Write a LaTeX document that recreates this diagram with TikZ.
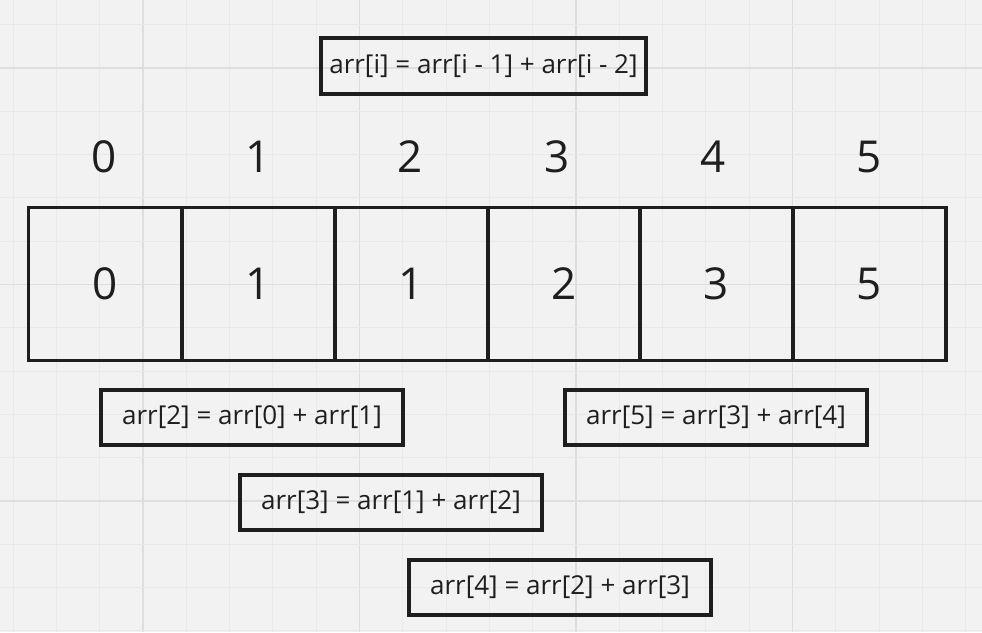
\documentclass[tikz,border=0pt]{standalone}
\usepackage{fontspec}
\setmainfont{Open Sans}
\definecolor{bgc}{HTML}{F2F2F2}
\definecolor{gridminor}{HTML}{E9E9E9}
\definecolor{gridmajor}{HTML}{DEDEDE}
\definecolor{ink}{HTML}{1E1E1E}
\begin{document}
\begin{tikzpicture}[x=1pt,y=-1pt,
  cellbox/.style={draw=ink,line width=3.5pt,minimum height=153pt,inner sep=0pt,text=ink,font=\fontsize{44}{48}\selectfont},
  idxlabel/.style={text=ink,inner sep=0pt,font=\fontsize{44}{48}\selectfont},
  formbox/.style={draw=ink,line width=4pt,minimum width=302pt,minimum height=55pt,inner sep=0pt,text=ink,font=\fontsize{26}{30}\selectfont}]
\fill[bgc] (0,0) rectangle (982,632);
\useasboundingbox (0,0) rectangle (982,632);
% grid
\foreach \i in {-3,...,19}{
  \pgfmathsetmacro\xx{143+43.3*\i}
  \pgfmathtruncatemacro\mm{mod(\i+10,5)}
  \ifnum\mm=0
    \draw[gridmajor,line width=1.3pt] (\xx,0) -- (\xx,632);
  \else
    \draw[gridminor,line width=1pt] (\xx,0) -- (\xx,632);
  \fi
}
\foreach \j in {-1,...,13}{
  \pgfmathsetmacro\yy{68+43.3*\j}
  \pgfmathtruncatemacro\mm{mod(\j+10,5)}
  \ifnum\mm=0
    \draw[gridmajor,line width=1.3pt] (0,\yy) -- (982,\yy);
  \else
    \draw[gridminor,line width=1pt] (0,\yy) -- (982,\yy);
  \fi
}
% top formula
\node[formbox,minimum width=325pt,minimum height=56pt] (general) at (483.5,66) {arr[i] = arr[i - 1] + arr[i - 2]};
% index labels
\node[idxlabel] (i0) at (104,157) {0};
\node[idxlabel] (i1) at (258,157) {1};
\node[idxlabel] (i2) at (410,157) {2};
\node[idxlabel] (i3) at (557,157) {3};
\node[idxlabel] (i4) at (713,157) {4};
\node[idxlabel] (i5) at (869,157) {5};
% array cells
\node[cellbox,minimum width=154pt] (c0) at (105.5,284) {0};
\node[cellbox,minimum width=153pt] (c1) at (258.5,284) {1};
\node[cellbox,minimum width=153pt] (c2) at (411.5,284) {1};
\node[cellbox,minimum width=152pt] (c3) at (564,284) {2};
\node[cellbox,minimum width=153pt] (c4) at (716.5,284) {3};
\node[cellbox,minimum width=153pt] (c5) at (869.5,284) {5};
% formula boxes
\node[formbox] (f2) at (252,417) {arr[2] = arr[0] + arr[1]};
\node[formbox] (f5) at (716,417) {arr[5] = arr[3] + arr[4]};
\node[formbox] (f3) at (391,502.5) {arr[3] = arr[1] + arr[2]};
\node[formbox] (f4) at (560,587.5) {arr[4] = arr[2] + arr[3]};
\end{tikzpicture}
\end{document}
